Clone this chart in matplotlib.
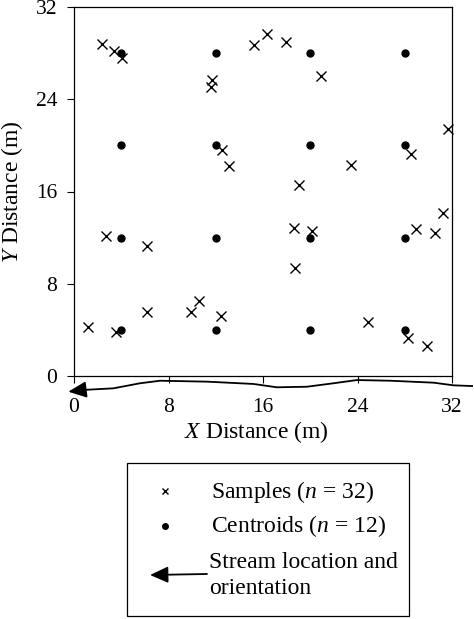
import matplotlib
matplotlib.use("Agg")
import matplotlib.pyplot as plt
from matplotlib.lines import Line2D
from matplotlib.patches import Rectangle, FancyArrowPatch
import numpy as np

plt.rcParams['font.family'] = ['Liberation Serif', 'DejaVu Serif']
plt.rcParams['mathtext.fontset'] = 'custom'
plt.rcParams['mathtext.it'] = 'Liberation Serif:italic'
plt.rcParams['mathtext.rm'] = 'Liberation Serif'

# Sample locations (m)
sample_x = [2.35, 3.39, 4.07, 11.72, 11.58, 15.2, 16.33, 17.97, 20.9, 31.7,
            12.52, 13.08, 28.56, 23.45, 19.07, 2.71, 6.16, 18.64, 20.14, 18.73,
            28.98, 30.59, 31.24, 1.21, 3.56, 6.21, 9.92, 10.56, 12.43, 24.86,
            28.25, 29.89]
sample_y = [28.83, 28.19, 27.61, 25.65, 25.02, 28.68, 29.70, 28.97, 26.0, 21.38,
            19.58, 18.2, 19.24, 18.34, 16.55, 12.13, 11.27, 12.85, 12.59, 9.39,
            12.74, 12.36, 14.15, 4.22, 3.81, 5.52, 5.52, 6.53, 5.23, 4.65,
            3.27, 2.63]

# Centroids (m)
centroid_x = [4, 12, 20, 28, 4, 12, 20, 28, 4, 12, 20, 28, 4, 12, 20, 28]
centroid_y = [4, 4, 4, 4, 12, 12, 12, 12, 20, 20, 20, 20, 28, 28, 28, 28]

# Stream trace (m), drawn below the plot area
stream_x = [33.7, 32.14, 30.45, 26.78, 23.96, 21.97, 19.72, 17.18, 15.19,
            11.25, 7.29, 5.59, 3.33, 0.76, -0.48]
stream_y = [-0.87, -0.81, -0.58, -0.41, -0.35, -0.63, -0.93, -0.98, -0.69,
            -0.49, -0.41, -0.63, -1.07, -1.21, -1.36]

ticks = [0, 8, 16, 24, 32]

fig = plt.figure(figsize=(4.74, 6.19), dpi=100)
ax = fig.add_axes([74/474, 1-376/619, 378/474, 369/619])

ax.plot(sample_x, sample_y, linestyle='none', marker='x', ms=7.5, mew=1.0,
        color='black', clip_on=False)
ax.plot(centroid_x, centroid_y, linestyle='none', marker='o', ms=5,
        color='black', clip_on=False)

ax.plot(stream_x[:-1], stream_y[:-1], color='black', lw=1.3, clip_on=False)
ax.annotate('', xy=(stream_x[-1], stream_y[-1]), xytext=(stream_x[-2], stream_y[-2]),
            arrowprops=dict(arrowstyle='-|>,head_length=1.0,head_width=0.45',
                            color='black', lw=1.3, shrinkA=0, shrinkB=0,
                            mutation_scale=11),
            annotation_clip=False)

ax.set_xlim(0, 32)
ax.set_ylim(0, 32)
ax.set_xticks(ticks)
ax.set_yticks(ticks)
ax.tick_params(axis='both', direction='out', length=5, width=0.8, labelsize=15.5)
ax.tick_params(axis='x', pad=11)
ax.tick_params(axis='y', pad=7)
for s in ax.spines.values():
    s.set_linewidth(0.9)

ax.set_xlabel(r'$\mathit{X}$ Distance (m)', fontsize=17)
ax.set_ylabel(r'$\mathit{Y}$ Distance (m)', fontsize=17)
ax.xaxis.set_label_coords((256-74)/378, -(419-376)/369)
ax.yaxis.set_label_coords(-(74-25)/378, (376-192)/369)

# Legend box
def fx(px):
    return px / 474
def fy(py):
    return 1 - py / 619

fig.patches.append(Rectangle((fx(127), fy(616)), fx(409) - fx(127), fy(463) - fy(616),
                             transform=fig.transFigure, fill=False,
                             edgecolor='black', lw=0.9))
fig.lines.append(Line2D([fx(165)], [fy(491)], marker='x', ms=5, mew=1.0,
                        color='black', transform=fig.transFigure))
fig.lines.append(Line2D([fx(165)], [fy(526)], marker='o', ms=4,
                        color='black', transform=fig.transFigure))
fig.patches.append(FancyArrowPatch((fx(207), fy(574)), (fx(150), fy(575)),
                                   transform=fig.transFigure,
                                   arrowstyle='-|>,head_length=1.0,head_width=0.45',
                                   mutation_scale=11,
                                   color='black', lw=1.3, shrinkA=0, shrinkB=0))
fs = 17
fig.text(fx(211), fy(492), r'Samples ($\mathit{n}$ = 32)', fontsize=fs, va='center')
fig.text(fx(211), fy(526), r'Centroids ($\mathit{n}$ = 12)', fontsize=fs, va='center')
fig.text(fx(209), fy(562), 'Stream location and', fontsize=fs, va='center')
fig.text(fx(209), fy(589), 'orientation', fontsize=fs, va='center')

fig.savefig('out.png', dpi=100)
